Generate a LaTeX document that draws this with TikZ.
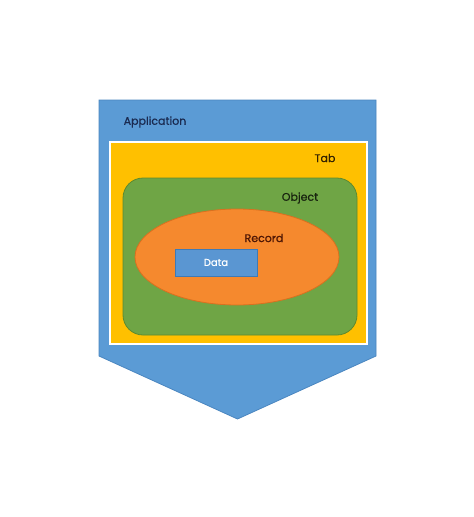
\documentclass[tikz,border=0pt]{standalone}
\usepackage{fontspec}
\setmainfont{Poppins}
\newfontfamily\lblfont{Poppins}[FakeBold=0.7]
\usetikzlibrary{positioning,shapes.geometric}
\definecolor{appc}{HTML}{5B9BD5}
\definecolor{appline}{HTML}{4A86C0}
\definecolor{tabc}{HTML}{FFC000}
\definecolor{objc}{HTML}{6FA545}
\definecolor{objline}{HTML}{5E8A2E}
\definecolor{recc}{HTML}{F5892E}
\definecolor{recline}{HTML}{D9701F}
\definecolor{datac}{HTML}{5A96D2}
\definecolor{dataline}{HTML}{3F7AB5}
\definecolor{apptxt}{HTML}{1A2A50}
\definecolor{tabtxt}{HTML}{332200}
\definecolor{objtxt}{HTML}{18240F}
\definecolor{rectxt}{HTML}{501704}
\tikzset{
  lbl/.style={font=\lblfont\fontsize{11}{13}\selectfont,inner sep=0pt},
  tabbox/.style={draw=white,line width=1.6pt,fill=tabc,inner sep=0pt},
  objbox/.style={draw=objline,line width=0.8pt,fill=objc,rounded corners=20pt,inner sep=0pt},
  recell/.style={ellipse,draw=recline,line width=0.8pt,fill=recc,inner sep=0pt},
  databox/.style={draw=dataline,line width=0.8pt,fill=datac,inner sep=0pt}
}
\begin{document}
\begin{tikzpicture}[x=1pt,y=-1pt]
\useasboundingbox[fill=white] (0,0) rectangle (474,517);
% outer shield
\filldraw[fill=appc,draw=appline,line width=0.8pt] (99,100) -- (376,100) -- (376,356) -- (237.5,419) -- (99,356) -- cycle;
\node[lbl,text=apptxt] (app) at (155,122) {Application};
% nested boxes
\node[tabbox,minimum width=257,minimum height=202] (tab) at (238.5,243) {};
\node[lbl,text=tabtxt] (tabl) at (325,158) {Tab};
\node[objbox,minimum width=234,minimum height=157] (obj) at (240,256.5) {};
\node[lbl,text=objtxt] (objl) at (300,198) {Object};
\node[recell,minimum width=204,minimum height=96] (rec) at (237,257) {};
\node[lbl,text=rectxt] (recl) at (264,238) {Record};
\node[databox,minimum width=82,minimum height=27] (data) at (216,262.5) {};
\node[lbl,text=white,font=\lblfont\fontsize{10}{12}\selectfont] (datal) at (data) {Data};
\end{tikzpicture}
\end{document}
